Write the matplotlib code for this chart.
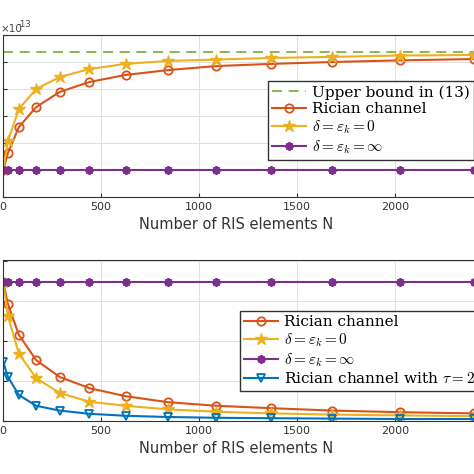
import matplotlib
matplotlib.use('Agg')
import matplotlib.pyplot as plt

plt.rcParams['mathtext.fontset'] = 'cm'

N = [1, 25, 81, 169, 289, 441, 625, 841, 1089, 1369, 1681, 2025, 2401]

# top panel (x1e-13)
upper_bound = 5.37
top_rician = [1.0, 1.63, 2.59, 3.33, 3.89, 4.26, 4.52, 4.70, 4.85, 4.93, 5.00, 5.06, 5.11]
top_zero = [1.0, 2.07, 3.26, 4.00, 4.44, 4.74, 4.93, 5.04, 5.09, 5.15, 5.19, 5.24, 5.26]
top_inf = [1.0] * len(N)

# bottom panel
bot_rician = [3.48, 2.92, 2.15, 1.52, 1.10, 0.82, 0.62, 0.47, 0.38, 0.32, 0.26, 0.22, 0.19]
bot_zero = [3.48, 2.62, 1.68, 1.07, 0.70, 0.48, 0.38, 0.29, 0.23, 0.19, 0.16, 0.14, 0.12]
bot_inf = [3.48] * len(N)
bot_tau = [1.48, 1.10, 0.65, 0.38, 0.26, 0.18, 0.13, 0.10, 0.08, 0.07, 0.06, 0.05, 0.05]

c_or, c_ye, c_pu, c_bl, c_gr = '#D95319', '#EDB120', '#7E2F8E', '#0072BD', '#77AC30'
ast = (8, 2, 0)  # asterisk marker

fig = plt.figure(figsize=(4.74, 4.74), dpi=100)
W = 490 / 474
ax1 = fig.add_axes([3 / 474, 1 - 197 / 474, W, 162 / 474])
ax2 = fig.add_axes([3 / 474, 1 - 421 / 474, W, 161 / 474])

lp = dict(family='DejaVu Serif', size=11)
leg_kw = dict(loc='upper left', bbox_transform=fig.transFigure, prop=lp, fancybox=False,
              edgecolor='#333333', framealpha=1, borderpad=0.3, handlelength=2.2,
              labelspacing=0.15, handletextpad=0.4)

ax1.axhline(upper_bound, color=c_gr, ls='--', lw=1.2, dashes=(6, 4), label='Upper bound in (13)')
ax1.plot(N, top_rician, '-o', color=c_or, lw=1.5, ms=6, mfc='none', mew=1.3, label='Rician channel')
ax1.plot(N, top_zero, '-*', color=c_ye, lw=1.5, ms=9, label=r'$\delta=\varepsilon_k=0$')
ax1.plot(N, top_inf, '-', marker=ast, color=c_pu, lw=1.5, ms=6, mew=1.5, label=r'$\delta=\varepsilon_k=\infty$')
ax1.set_ylim(0, 6)
ax1.set_yticks(range(7))
ax1.text(0.5 / 474, 1 - 32 / 474, '×10', transform=fig.transFigure, fontsize=7.5, color='#444444')
ax1.text(18 / 474, 1 - 27 / 474, '-13', transform=fig.transFigure, fontsize=6, color='#444444')
ax1.legend(bbox_to_anchor=(260 / 474, 1 - 73 / 474), **leg_kw)

ax2.plot(N, bot_rician, '-o', color=c_or, lw=1.5, ms=6, mfc='none', mew=1.3, label='Rician channel')
ax2.plot(N, bot_zero, '-*', color=c_ye, lw=1.5, ms=9, label=r'$\delta=\varepsilon_k=0$')
ax2.plot(N, bot_inf, '-', marker=ast, color=c_pu, lw=1.5, ms=6, mew=1.5, label=r'$\delta=\varepsilon_k=\infty$')
ax2.plot(N, bot_tau, '-v', color=c_bl, lw=1.5, ms=6, mfc='none', mew=1.3, label=r'Rician channel with $\tau=20$')
ax2.set_ylim(0, 4.02)
ax2.set_yticks(range(5))
ax2.legend(bbox_to_anchor=(232 / 474, 1 - 303 / 474), **leg_kw)

for ax in (ax1, ax2):
    ax.set_xlim(0, 2500)
    ax.set_xticks([0, 500, 1000, 1500, 2000])
    ax.grid(True, color='#e0e0e0', lw=0.7)
    ax.tick_params(direction='in', labelsize=8, colors='#333333', labelleft=False, length=3)
    for s in ax.spines.values():
        s.set_color('#333333')
    ax.set_xlabel('Number of RIS elements N', fontsize=10.5, color='#333333', x=233 / 490)

fig.savefig('out.png', dpi=100)
